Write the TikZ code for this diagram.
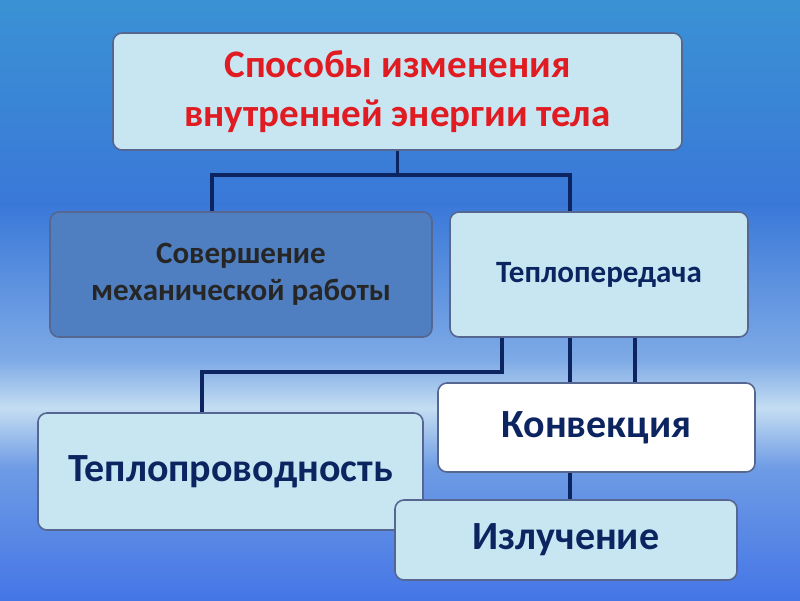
\documentclass[tikz,border=0pt]{standalone}
\usepackage{fontspec}
\setmainfont{Carlito}
\definecolor{navy}{HTML}{0C2460}
\definecolor{boxlight}{HTML}{C8E6F2}
\definecolor{boxdark}{HTML}{4F7FC0}
\definecolor{titlered}{HTML}{E01B22}
\definecolor{bga}{HTML}{1A4CE8}
\definecolor{bgb}{HTML}{2A5EE8}
\definecolor{bgc}{HTML}{6E9BE4}
\definecolor{bgd}{HTML}{C4DDF2}
\definecolor{bge}{HTML}{7EAAE6}
\definecolor{bgf}{HTML}{3A78D8}
\definecolor{bgg}{HTML}{3A92D4}
\definecolor{bgh}{HTML}{30C8CC}
\pgfdeclareverticalshading{slidebg}{100bp}{
  color(0bp)=(bga); color(18bp)=(bgb); color(36bp)=(bgc);
  color(41bp)=(bgd); color(45bp)=(bge); color(58bp)=(bgf);
  color(75bp)=(bgg); color(100bp)=(bgh)}
\begin{document}
\begin{tikzpicture}[x=1pt,y=-1pt,
  box/.style={draw=navy!70, line width=1.6pt, rounded corners=9pt, fill=boxlight,
    font=\bfseries\fontsize{31}{37}\selectfont, text=navy, align=center, inner sep=2pt},
  big/.style={font=\bfseries\fontsize{40}{46}\selectfont},
  link/.style={draw=navy, line width=3.5pt}]
  \shade[shading=slidebg] (0,0) rectangle (800,600);
  \useasboundingbox (0,0) rectangle (800,600);
  % connectors
  \coordinate (j) at (397.5,175);
  \draw[link] (397.5,150) -- (j);
  \draw[link] (212,212) |- (j) -| (570,212);
  \draw[link] (502,337) |- (202,372) -- (202,413);
  \draw[link] (570,337) -- (570,383);
  \draw[link] (635,337) -- (635,383);
  \draw[link] (570,472) -- (570,500);
  % boxes
  \node[box, minimum width=569, minimum height=117, text=titlered,
    font=\bfseries\fontsize{39}{49}\selectfont] (top) at (397.5,91.5)
    {Способы изменения\\внутренней энергии тела};
  \node[box, fill=boxdark, minimum width=382, minimum height=125, text=black!85] (work) at (241,274.5)
    {Совершение\\механической работы};
  \node[box, minimum width=298, minimum height=125] (heat) at (599,274.5) {Теплопередача};
  \node[box, big, minimum width=385, minimum height=117] (cond) at (230.5,471.5) {Теплопроводность};
  \node[box, big, fill=white, minimum width=317, minimum height=89] (conv) at (596.5,427.5) {Конвекция};
  \node[box, big, minimum width=342, minimum height=80] (rad) at (566,540) {Излучение};
\end{tikzpicture}
\end{document}
